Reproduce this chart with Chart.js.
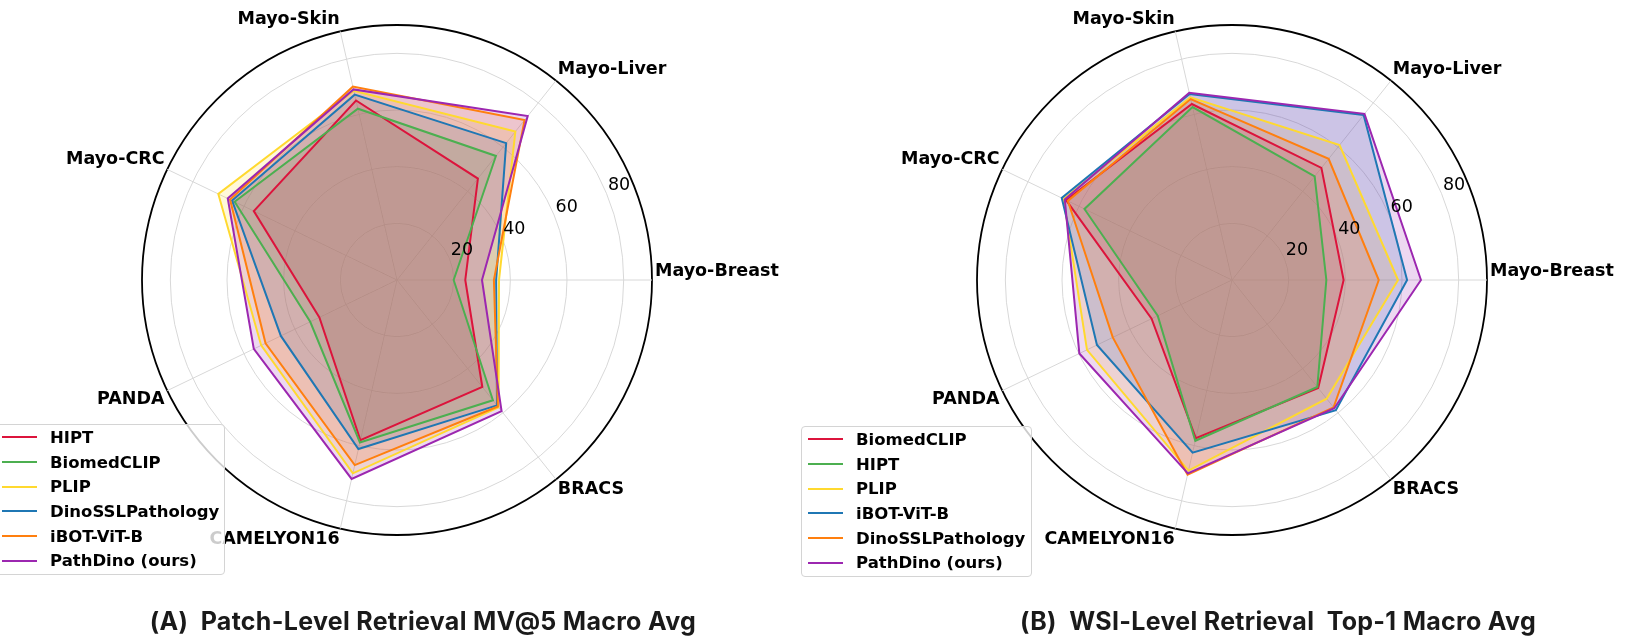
<!DOCTYPE html>
<html>
<head>
<meta charset="utf-8">
<title>Retrieval radar charts</title>
<script src="https://cdn.jsdelivr.net/npm/chart.js@4.4.1/dist/chart.umd.min.js"></script>
<style>
  body { margin: 0; background: #fff; }
  #page { position: relative; width: 1638px; height: 636px; overflow: hidden; font-family: "DejaVu Sans", sans-serif; }
  canvas { position: absolute; top: 0; }
  .legend { position: absolute; box-sizing: border-box; border: 1px solid #d4d4d4; border-radius: 4px; background: rgba(255, 255, 255, 0.8); padding: 0 0 1px 6px; }
  .legend-row { display: flex; align-items: center; height: 24.7px; font-weight: bold; font-size: 16.5px; white-space: nowrap; color: #000; }
  .legend-line { width: 35px; height: 2px; margin-right: 13px; flex: none; }
  .caption { position: absolute; top: 609px; width: 760px; text-align: center; font-family: Inter, sans-serif; font-weight: 700; font-size: 25px; line-height: 25px; letter-spacing: 0.3px; white-space: pre; color: #1a1a1a; }
</style>
</head>
<body>
<div id="page">
  <canvas id="patchChart" width="819" height="636" style="left:0"></canvas>
  <canvas id="wsiChart" width="819" height="636" style="left:819px"></canvas>
  <div class="legend" id="patchLegend" style="left:-5px; top:424px; width:230px;"></div>
  <div class="legend" id="wsiLegend" style="left:801px; top:426px; width:231px;"></div>
  <div class="caption" style="left:43px">(A)  Patch-Level Retrieval MV@5 Macro Avg</div>
  <div class="caption" style="left:898px">(B)  WSI-Level Retrieval  Top-1 Macro Avg</div>
</div>
<script>
const categories = ['Mayo-Breast', 'Mayo-Liver', 'Mayo-Skin', 'Mayo-CRC', 'PANDA', 'CAMELYON16', 'BRACS'];
const tickValues = [0, 20, 40, 60, 80, 90];

// (A) patch-level retrieval, MV@5 macro avg
const patchModels = ['HIPT', 'BiomedCLIP', 'PLIP', 'DinoSSLPathology', 'iBOT-ViT-B', 'PathDino (ours)'];
const patchHipt       = [24.1, 45.8, 65.0, 56.1, 30.4, 58.0, 48.3];
const patchBiomedclip = [20.0, 56.0, 62.0, 63.6, 34.0, 58.8, 54.3];
const patchPlip       = [36.0, 67.0, 68.5, 70.0, 53.2, 70.0, 57.5];
const patchDinossl    = [35.0, 61.8, 67.1, 64.6, 45.5, 61.2, 56.6];
const patchIbot       = [34.2, 72.2, 70.0, 65.4, 51.5, 67.0, 57.1];
const patchPathdino   = [30.0, 74.0, 69.0, 66.3, 56.1, 72.0, 59.2];

// (B) WSI-level retrieval, top-1 macro avg
const wsiModels = ['BiomedCLIP', 'HIPT', 'PLIP', 'iBOT-ViT-B', 'DinoSSLPathology', 'PathDino (ours)'];
const wsiBiomedclip = [39.4, 50.6, 63.7, 65.0, 31.5, 57.3, 48.8];
const wsiHipt       = [33.3, 46.8, 62.6, 57.8, 29.1, 58.2, 48.3];
const wsiPlip       = [58.6, 60.9, 66.1, 66.0, 56.8, 69.0, 53.6];
const wsiIbot       = [61.8, 74.5, 67.3, 66.7, 52.9, 62.5, 58.8];
const wsiDinossl    = [51.8, 54.7, 65.5, 64.3, 46.7, 70.5, 57.5];
const wsiPathdino   = [66.7, 75.0, 67.8, 65.5, 59.8, 70.0, 57.9];

const lineColors = ['#DC143C', '#4CAF50', '#FFD92F', '#1F77B4', '#FF7F0E', '#9C27B0'];

// chart.js walks the axes clockwise, the reference goes counter-clockwise from Mayo-Breast
const clockwise = arr => [arr[0], ...arr.slice(1).reverse()];

function withAlpha(hex, a) {
    const n = parseInt(hex.slice(1), 16);
    return `rgba(${n >> 16}, ${(n >> 8) & 255}, ${n & 255}, ${a})`;
}

// axis names outside the rim and the radial tick labels at 22.5 deg
const axisTextPlugin = {
    id: 'axisText',
    afterDraw(chart) {
        const scale = chart.scales.r;
        const ctx = chart.ctx;
        ctx.save();
        ctx.fillStyle = '#000';
        ctx.font = 'bold 17.5px "DejaVu Sans"';
        ctx.textBaseline = 'alphabetic';
        chart.data.labels.forEach((label, i) => {
            const p = scale.getPointPosition(i, scale.drawingArea + 3);
            const dx = p.x - scale.xCenter;
            const dy = p.y - scale.yCenter;
            ctx.textAlign = dx >= 0 ? 'left' : 'right';
            ctx.fillText(label, p.x, dy > 1 ? p.y + 12.5 : p.y - 4);
        });

        ctx.font = '17.5px "DejaVu Sans"';
        ctx.textAlign = 'left';
        const a = 22.5 * Math.PI / 180;
        tickValues.filter(v => v > 0 && v < 90).forEach(v => {
            const d = scale.getDistanceFromCenterForValue(v);
            ctx.fillText(String(v), scale.xCenter + Math.cos(a) * d + 1.5, scale.yCenter - Math.sin(a) * d - 3);
        });
        ctx.restore();
    }
};

function makeRadar(canvasId, models, series, padding) {
    return new Chart(document.getElementById(canvasId), {
        type: 'radar',
        data: {
            labels: clockwise(categories),
            datasets: series.map((values, i) => ({
                label: models[i],
                data: clockwise(values),
                borderColor: lineColors[i],
                backgroundColor: withAlpha(lineColors[i], 0.18),
                borderWidth: 2,
                pointRadius: 0,
                fill: true,
                order: series.length - i
            }))
        },
        options: {
            responsive: false,
            animation: false,
            layout: { padding },
            plugins: {
                legend: { display: false },
                tooltip: { enabled: false },
                filler: { drawTime: 'beforeDatasetsDraw' }
            },
            scales: {
                r: {
                    min: 0,
                    max: 90,
                    startAngle: 90,
                    afterBuildTicks: scale => { scale.ticks = tickValues.map(v => ({ value: v })); },
                    ticks: { display: false },
                    grid: {
                        circular: true,
                        color: c => (c.tick && c.tick.value === 90 ? '#000' : '#d8d8d8'),
                        lineWidth: c => (c.tick && c.tick.value === 90 ? 1.8 : 1)
                    },
                    angleLines: { color: '#d8d8d8', lineWidth: 1 },
                    pointLabels: { display: false }
                }
            }
        },
        plugins: [axisTextPlugin]
    });
}

function fillLegend(id, models) {
    const box = document.getElementById(id);
    models.forEach((name, i) => {
        const row = document.createElement('div');
        row.className = 'legend-row';
        const line = document.createElement('span');
        line.className = 'legend-line';
        line.style.background = lineColors[i];
        row.appendChild(line);
        row.appendChild(document.createTextNode(name));
        box.appendChild(row);
    });
}

makeRadar('patchChart', patchModels,
    [patchHipt, patchBiomedclip, patchPlip, patchDinossl, patchIbot, patchPathdino],
    { left: 142, top: 25, right: 167, bottom: 101 });
makeRadar('wsiChart', wsiModels,
    [wsiBiomedclip, wsiHipt, wsiPlip, wsiIbot, wsiDinossl, wsiPathdino],
    { left: 158, top: 25, right: 151, bottom: 101 });

fillLegend('patchLegend', patchModels);
fillLegend('wsiLegend', wsiModels);
</script>
</body>
</html>
